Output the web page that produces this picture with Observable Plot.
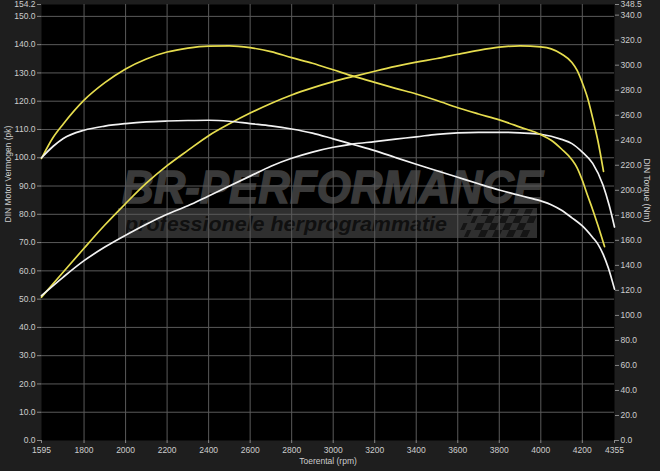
<!DOCTYPE html>
<html><head><meta charset="utf-8">
<script src="https://cdn.jsdelivr.net/npm/d3@7"></script>
<script src="https://cdn.jsdelivr.net/npm/@observablehq/plot@0.6"></script>
<style>html,body{margin:0;padding:0;background:#1e1e1e;overflow:hidden}</style>
</head><body><div id="chart"></div>
<script>
// ---- data ----
const xTicks = [1595,1800,2000,2200,2400,2600,2800,3000,3200,3400,3600,3800,4000,4200,4355];
const pkTicks = [0,10,20,30,40,50,60,70,80,90,100,110,120,130,140,150,154.2];
const nmTicks = [0,20,40,60,80,100,120,140,160,180,200,220,240,260,280,300,320,340,348.5];

// tuned power (pk)
const rpmYellowPower = [1595,1700,1800,1900,2000,2100,2200,2300,2400,2500,2600,2700,2800,2900,3000,3100,3200,3300,3400,3500,3600,3700,3800,3900,4000,4050,4100,4150,4175,4200,4225,4250,4275,4302];
const pkYellow = [50.7,59.6,68.0,76.2,83.8,91.0,97.2,102.6,107.8,112.0,115.8,119.2,122.2,124.7,126.9,128.8,130.6,132.3,133.8,135.1,136.6,138.0,139.1,139.6,139.2,138.5,136.7,133.7,130.9,126.5,121.2,114.0,106.0,95.2];
// stock power (pk)
const rpmWhitePower = [1595,1700,1800,1900,2000,2100,2200,2300,2400,2500,2600,2700,2800,2900,3000,3100,3200,3300,3400,3500,3600,3700,3800,3900,4000,4100,4150,4200,4250,4300,4330,4355];
const pkWhite = [51.2,57.8,63.6,68.4,72.6,76.5,80.0,83.0,86.5,90.0,93.5,97.0,99.8,102.0,103.7,104.9,105.7,106.6,107.4,108.3,108.8,109.0,109.0,108.8,108.3,106.5,105.0,102.0,98.0,90.3,83.0,75.5];
// tuned torque (Nm)
const rpmYellowTorque = [1595,1650,1700,1800,1900,2000,2100,2200,2300,2400,2500,2600,2700,2800,2900,3000,3100,3200,3300,3400,3500,3600,3700,3800,3900,4000,4050,4100,4150,4175,4200,4225,4250,4275,4307];
const nmYellow = [225.5,242,253,272,286,297,305,310.5,313.7,315.3,315.5,314,310.8,306,301.5,296.3,291,286.3,281.5,277,271.8,266,261,256.3,250.5,244.5,240,233,224.5,218,208,196,184.5,172,155];
// stock torque (Nm)
const rpmWhiteTorque = [1595,1650,1700,1800,1900,2000,2100,2200,2300,2400,2500,2600,2700,2800,2900,3000,3100,3200,3300,3400,3500,3600,3700,3800,3900,4000,4050,4100,4150,4200,4250,4275,4300,4325,4355];
const nmWhite = [226,235,241.4,248,251.3,253.3,254.7,255.4,255.8,256,255.2,253.3,251.5,249,245.7,241.1,236.4,231.7,226.2,220.8,215.6,210.4,205.2,200.2,195.8,191.5,188.5,184,178,171.5,162.3,157,149,138,121];

// ---- scale link: right axis (Nm) shares the frame with left axis (pk) ----
const pkMax = 154.2, nmMax = 348.5;
const k = pkMax / nmMax;

const yellow = "#e6dd4e", white = "#f2f2f2";
const series = [
  {rpm: rpmYellowPower, v: pkYellow, f: 1, color: yellow},
  {rpm: rpmWhitePower, v: pkWhite, f: 1, color: white},
  {rpm: rpmYellowTorque, v: nmYellow, f: k, color: yellow},
  {rpm: rpmWhiteTorque, v: nmWhite, f: k, color: white}
];
const lineMarks = series.map(s => Plot.line(s.rpm.map((r, i) => ({rpm: r, y: s.v[i] * s.f})), {
  x: "rpm", y: "y", stroke: s.color, strokeWidth: 1.7, curve: "monotone-x"
}));

const chart = Plot.plot({
  width: 660, height: 471,
  marginLeft: 41, marginRight: 46, marginTop: 4, marginBottom: 31,
  style: {background: "#1e1e1e", color: "#cdcdcd", fontFamily: "'Liberation Sans', Arial, sans-serif", fontSize: "8.5px"},
  x: {domain: [1595, 4355]},
  y: {domain: [0, pkMax]},
  marks: [
    Plot.frame({fill: "black", stroke: "none"}),
    Plot.gridX({ticks: xTicks.slice(1, -1), stroke: "#5a5a5a", strokeOpacity: 1}),
    Plot.gridY({ticks: pkTicks.slice(1, -1), stroke: "#5a5a5a", strokeOpacity: 1}),
    Plot.axisX({ticks: xTicks, tickFormat: d => String(d), tickSize: 3, tickPadding: 3, label: null, stroke: "#888"}),
    Plot.axisY({ticks: pkTicks, anchor: "left", tickFormat: d => d.toFixed(1), tickSize: 4, tickPadding: 2, label: null, stroke: "#888"}),
    Plot.axisY({ticks: nmTicks.map(d => d * k), anchor: "right", tickFormat: d => (d / k).toFixed(1), tickSize: 4, tickPadding: 2, label: null, stroke: "#888"}),
    Plot.text(["Toerental (rpm)"], {text: d => d, frameAnchor: "bottom", dy: 23, fill: "#cdcdcd"}),
    Plot.text(["DIN Motor Vermogen (pk)"], {text: d => d, frameAnchor: "left", dx: -33, rotate: -90, fill: "#cdcdcd"}),
    Plot.text(["DIN Torque (Nm)"], {text: d => d, frameAnchor: "right", dx: 32, rotate: 90, fill: "#cdcdcd"}),
    ...lineMarks
  ]
});
document.getElementById("chart").appendChild(chart);

// ---- watermark (decoration, under the grid) ----
const svgEl = chart.tagName.toLowerCase() === "svg" ? chart : chart.querySelector("svg");
const frameNode = svgEl.querySelector('[aria-label="frame"]');
const wm = d3.create("svg:g").attr("aria-label", "watermark").attr("text-anchor", "start");
if (frameNode) frameNode.parentNode.insertBefore(wm.node(), frameNode.nextSibling);
else svgEl.insertBefore(wm.node(), svgEl.firstChild);

wm.append("text").attr("x", 122).attr("y", 203).attr("text-anchor", "start")
  .attr("font-family", "'Liberation Sans', Arial, sans-serif").attr("font-weight", "bold").attr("font-style", "italic")
  .attr("font-size", 46).attr("textLength", 421).attr("lengthAdjust", "spacingAndGlyphs")
  .attr("fill", "#3a3a3a").attr("stroke", "#3a3a3a").attr("stroke-width", 1.5)
  .text("BR-PERFORMANCE");
wm.append("rect").attr("x", 118).attr("y", 208).attr("width", 419).attr("height", 30).attr("fill", "#2f2f2f");
const flag = wm.append("g").attr("transform", "translate(470,209) skewX(-25)");
for (let r = 0; r < 4; r++) {
  for (let c = 0; c < 10; c++) {
    if ((r + c) % 2 === 0) {
      flag.append("rect").attr("x", c * 7).attr("y", r * 7).attr("width", c < 2 ? 4 : 7).attr("height", 7).attr("fill", "#151515");
    }
  }
}
wm.append("text").attr("x", 125).attr("y", 231).attr("text-anchor", "start")
  .attr("font-family", "'Liberation Sans', Arial, sans-serif").attr("font-weight", "bold").attr("font-style", "italic")
  .attr("font-size", 20).attr("textLength", 322).attr("lengthAdjust", "spacingAndGlyphs")
  .attr("fill", "#101010")
  .text("professionele herprogrammatie");
</script></body></html>
